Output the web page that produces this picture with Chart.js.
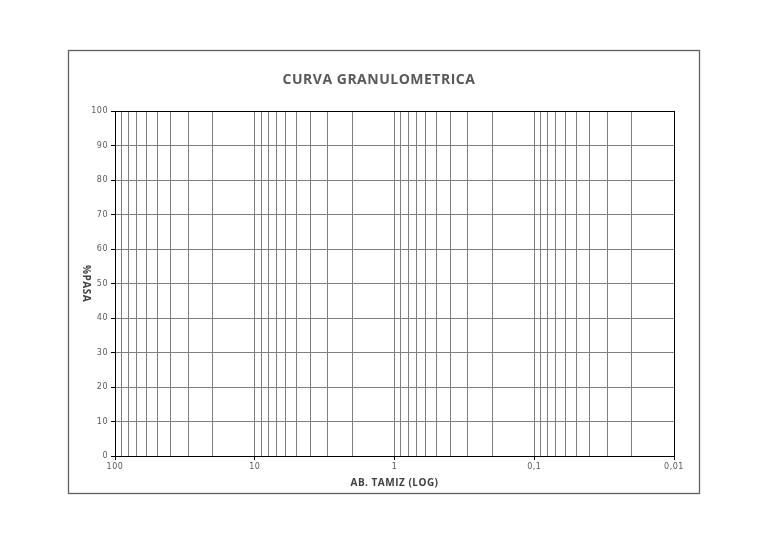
<!DOCTYPE html>
<html>
<head>
<meta charset="utf-8">
<script src="https://cdn.jsdelivr.net/npm/chart.js@4/dist/chart.umd.min.js"></script>
<style>
    html, body { margin: 0; padding: 0; background: #fff; }
    canvas { display: block; }
</style>
</head>
<body>
<canvas id="granChart" width="768" height="543"></canvas>
<script>
// Ensayo (vacio en la planilla)
const sieveSizes = [];
const percentPassing = [];

// Escala log: decadas, subdivisiones y etiquetas
const decades = [0.01, 0.1, 1, 10];
const minorSteps = [1, 2, 3, 4, 5, 6, 7, 8, 9];
const majorSizes = [100, 10, 1, 0.1, 0.01];
const majorLabels = ['100', '10', '1', '0,1', '0,01'];
const yTicks = [0, 10, 20, 30, 40, 50, 60, 70, 80, 90, 100];

const gridSizes = [100];
decades.forEach(d => minorSteps.forEach(k => gridSizes.push(d * k)));

const tickFont = { family: 'DejaVu Sans', size: 8 };

function isMajor(v) {
    return majorSizes.some(m => Math.abs(m - v) / m < 1e-6);
}

// Marco exterior, titulo y titulo del eje Y
const framePlugin = {
    id: 'frame',
    beforeDraw(chart) {
        const ctx = chart.ctx;
        ctx.save();
        ctx.fillStyle = '#fff';
        ctx.fillRect(0, 0, chart.width, chart.height);
        ctx.strokeStyle = '#5f5f5f';
        ctx.lineWidth = 1.3;
        ctx.strokeRect(68.5, 50.5, 631, 443);
        ctx.restore();
        // texto algo espaciado, como en la planilla
        ctx.letterSpacing = '0.5px';
    },
    afterDraw(chart) {
        const ctx = chart.ctx;
        const area = chart.chartArea;
        ctx.save();
        ctx.font = 'bold 14px "Open Sans"';
        ctx.fillStyle = '#595959';
        ctx.textAlign = 'center';
        ctx.textBaseline = 'middle';
        ctx.fillText('CURVA GRANULOMETRICA', 379, 80);
        ctx.translate(86, (area.top + area.bottom) / 2);
        ctx.rotate(Math.PI / 2);
        ctx.font = 'bold 10px "Open Sans"';
        ctx.fillStyle = '#404040';
        ctx.fillText('%PASA', 0, 0);
        ctx.restore();
        ctx.letterSpacing = '0px';
    }
};

const ctx = document.getElementById('granChart').getContext('2d');
new Chart(ctx, {
    type: 'scatter',
    data: {
        datasets: [{
            label: '%PASA',
            data: sieveSizes.map((s, i) => ({ x: s, y: percentPassing[i] })),
            borderColor: '#000',
            showLine: true
        }]
    },
    options: {
        responsive: false,
        animation: false,
        layout: {
            padding: { left: 69, right: 94, top: 111, bottom: 54 }
        },
        plugins: {
            legend: { display: false },
            tooltip: { enabled: false },
            title: { display: false }
        },
        scales: {
            x: {
                type: 'logarithmic',
                reverse: true,
                min: 0.01,
                max: 100,
                afterBuildTicks: scale => {
                    scale.ticks = gridSizes.map(v => ({ value: v, major: isMajor(v) }));
                },
                afterFit: scale => { scale.height = 33; },
                ticks: {
                    autoSkip: false,
                    maxRotation: 0,
                    padding: 2,
                    color: '#595959',
                    font: tickFont,
                    callback: value => {
                        const i = majorSizes.findIndex(m => Math.abs(m - value) / m < 1e-6);
                        return i < 0 ? '' : majorLabels[i];
                    }
                },
                grid: {
                    color: c => (c.tick && Math.abs(c.tick.value - 0.01) < 1e-9) ? '#000' : '#7f7f7f',
                    lineWidth: 1,
                    tickLength: 4,
                    tickColor: c => (c.tick && isMajor(c.tick.value)) ? '#000' : 'rgba(0,0,0,0)'
                },
                border: { color: '#000', width: 1 },
                title: {
                    display: true,
                    text: 'AB. TAMIZ (LOG)',
                    color: '#404040',
                    font: { family: 'Open Sans', size: 10, weight: 'bold' },
                    padding: { top: 2, bottom: 0 }
                }
            },
            y: {
                min: 0,
                max: 100,
                afterBuildTicks: scale => {
                    scale.ticks = yTicks.map(v => ({ value: v }));
                },
                afterFit: scale => { scale.width = 46; },
                ticks: {
                    padding: 3,
                    color: '#595959',
                    font: tickFont
                },
                grid: {
                    color: c => (c.tick && c.tick.value === 100) ? '#000' : '#7f7f7f',
                    lineWidth: 1,
                    tickLength: 4,
                    tickColor: '#000'
                },
                border: { color: '#000', width: 1 }
            }
        }
    },
    plugins: [framePlugin]
});
</script>
</body>
</html>
